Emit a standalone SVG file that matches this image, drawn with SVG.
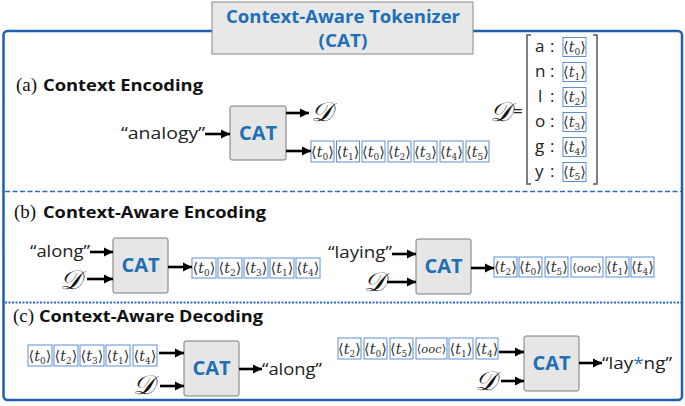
<svg xmlns="http://www.w3.org/2000/svg" width="685" height="406" viewBox="0 0 685 406">
<defs>
<marker id="ah" markerUnits="userSpaceOnUse" markerWidth="10" markerHeight="10" refX="9" refY="5" orient="auto">
<path d="M0,0.5 L9,5 L0,9.5 Z" fill="#000"/>
</marker>
<style>
.cat rect{fill:#e6e6e6;stroke:#7a7a7a;stroke-width:1}
.cat text{font-family:"Open Sans","DejaVu Sans",sans-serif;font-weight:700;font-size:20px;fill:#1f6fb5;text-anchor:middle}
.arr{stroke:#000;stroke-width:2.6;fill:none;marker-end:url(#ah)}
.tk rect{fill:#fff;stroke:#5b8fd0;stroke-width:1}
.tk text{font-family:"DejaVu Serif","Liberation Serif",serif;font-size:14.5px;fill:#333;text-anchor:middle}
.tk .i{font-style:italic}
.tk .s{font-size:9px}
.tk text.o{font-size:11.5px}
.lbl{font-family:"Open Sans","DejaVu Sans",sans-serif;font-size:17px;fill:#222}
.hd{font-family:"Open Sans","DejaVu Sans",sans-serif;font-weight:700;font-size:16.5px;fill:#111}
.hp{font-family:"Liberation Serif","DejaVu Serif",serif;font-size:19px;fill:#111}
.D{font-family:"DejaVu Serif","Liberation Serif",serif;font-style:italic;font-size:27px;fill:#111}
.ttl{font-family:"Open Sans","DejaVu Sans",sans-serif;font-weight:700;font-size:17.5px;fill:#1f6fb8;text-anchor:middle}
</style>
</defs>

<!-- frame -->
<rect x="3.5" y="31" width="678.5" height="369" rx="4" fill="#fff" stroke="#1f5fad" stroke-width="2.5"/>
<line x1="5" y1="191.5" x2="681" y2="191.5" stroke="#2a6bbf" stroke-width="1.5" stroke-dasharray="5 2.5"/>
<line x1="5" y1="302.5" x2="681" y2="302.5" stroke="#2a6bbf" stroke-width="1.8" stroke-dasharray="2 1.5"/>

<g id="title">
<rect x="212" y="2" width="261" height="52" fill="#e8e8e8" stroke="#888" stroke-width="1"/>
<text class="ttl" x="343" y="23" textLength="234" lengthAdjust="spacingAndGlyphs">Context-Aware Tokenizer</text>
<text class="ttl" x="343" y="47" textLength="49" lengthAdjust="spacingAndGlyphs">(CAT)</text>
</g>

<!-- headings -->
<g id="heading-a"><text class="hp" x="16" y="91">(a)</text><text class="hd" x="43" y="91" textLength="160" lengthAdjust="spacingAndGlyphs">Context Encoding</text></g>
<g id="heading-b"><text class="hp" x="14" y="218">(b)</text><text class="hd" x="43" y="218" textLength="223" lengthAdjust="spacingAndGlyphs">Context-Aware Encoding</text></g>
<g id="heading-c"><text class="hp" x="13" y="322">(c)</text><text class="hd" x="39" y="322" textLength="224" lengthAdjust="spacingAndGlyphs">Context-Aware Decoding</text></g>

<!-- CAT nodes -->
<g id="cat-a" class="cat"><rect x="230" y="106" width="56" height="54" rx="2"/><text x="258" y="140">CAT</text></g>
<g id="cat-b1" class="cat"><rect x="113" y="238" width="55" height="55" rx="2"/><text x="140.5" y="272">CAT</text></g>
<g id="cat-b2" class="cat"><rect x="416" y="239" width="55" height="55" rx="2"/><text x="443.5" y="273">CAT</text></g>
<g id="cat-c1" class="cat"><rect x="184" y="341" width="55" height="55" rx="2"/><text x="211.5" y="375">CAT</text></g>
<g id="cat-c2" class="cat"><rect x="524" y="336" width="55" height="55" rx="2"/><text x="551.5" y="370">CAT</text></g>

<!-- labels -->
<g id="labels">
<text class="lbl" x="121" y="139" textLength="84" lengthAdjust="spacingAndGlyphs">“analogy”</text>
<text class="D" x="311" y="121">𝒟</text>
<text class="lbl" x="30" y="257" textLength="60" lengthAdjust="spacingAndGlyphs">“along”</text>
<text class="D" x="60" y="289">𝒟</text>
<text class="lbl" x="328" y="258" textLength="64" lengthAdjust="spacingAndGlyphs">“laying”</text>
<text class="D" x="364" y="291">𝒟</text>
<text class="D" x="133" y="394">𝒟</text>
<text class="lbl" x="262" y="375" textLength="60" lengthAdjust="spacingAndGlyphs">“along”</text>
<text class="D" x="475" y="390">𝒟</text>
<text class="lbl" x="602" y="369" textLength="70" lengthAdjust="spacingAndGlyphs">“lay<tspan fill="#1f6fb5">*</tspan>ng”</text>
</g>

<!-- dictionary -->
<g id="dict">
<text class="D" x="490" y="121">𝒟</text>
<text class="lbl" x="513" y="117" font-size="18">=</text>
<path d="M531,35 H527 V184 H531 M593,35 H597 V184 H593" fill="none" stroke="#555" stroke-width="1.5"/>
<g class="lbl" font-size="17">
<text x="535" y="52">a</text><text x="550" y="52">:</text>
<text x="535" y="77">n</text><text x="550" y="77">:</text>
<text x="538" y="102">l</text><text x="550" y="102">:</text>
<text x="535" y="127">o</text><text x="550" y="127">:</text>
<text x="535" y="152">g</text><text x="550" y="152">:</text>
<text x="535" y="177">y</text><text x="550" y="177">:</text>
</g>
<g class="tk">
<rect x="563" y="37.5" width="23" height="19"/><text x="574.5" y="52"><tspan>⟨</tspan><tspan class="i">t</tspan><tspan class="s" dy="3">0</tspan><tspan dy="-3">⟩</tspan></text>
<rect x="563" y="62.5" width="23" height="19"/><text x="574.5" y="77"><tspan>⟨</tspan><tspan class="i">t</tspan><tspan class="s" dy="3">1</tspan><tspan dy="-3">⟩</tspan></text>
<rect x="563" y="87.5" width="23" height="19"/><text x="574.5" y="102"><tspan>⟨</tspan><tspan class="i">t</tspan><tspan class="s" dy="3">2</tspan><tspan dy="-3">⟩</tspan></text>
<rect x="563" y="112.5" width="23" height="19"/><text x="574.5" y="127"><tspan>⟨</tspan><tspan class="i">t</tspan><tspan class="s" dy="3">3</tspan><tspan dy="-3">⟩</tspan></text>
<rect x="563" y="137.5" width="23" height="19"/><text x="574.5" y="152"><tspan>⟨</tspan><tspan class="i">t</tspan><tspan class="s" dy="3">4</tspan><tspan dy="-3">⟩</tspan></text>
<rect x="563" y="162.5" width="23" height="19"/><text x="574.5" y="177"><tspan>⟨</tspan><tspan class="i">t</tspan><tspan class="s" dy="3">5</tspan><tspan dy="-3">⟩</tspan></text>
</g>
</g>

<!-- token sequences -->
<g id="tokens-a" class="tk">
<rect x="311" y="141" width="23" height="21"/><text x="322.5" y="156.5"><tspan>⟨</tspan><tspan class="i">t</tspan><tspan class="s" dy="3">0</tspan><tspan dy="-3">⟩</tspan></text>
<rect x="336.5" y="141" width="23" height="21"/><text x="348" y="156.5"><tspan>⟨</tspan><tspan class="i">t</tspan><tspan class="s" dy="3">1</tspan><tspan dy="-3">⟩</tspan></text>
<rect x="362" y="141" width="23" height="21"/><text x="373.5" y="156.5"><tspan>⟨</tspan><tspan class="i">t</tspan><tspan class="s" dy="3">0</tspan><tspan dy="-3">⟩</tspan></text>
<rect x="388" y="141" width="23" height="21"/><text x="399.5" y="156.5"><tspan>⟨</tspan><tspan class="i">t</tspan><tspan class="s" dy="3">2</tspan><tspan dy="-3">⟩</tspan></text>
<rect x="414" y="141" width="23" height="21"/><text x="425.5" y="156.5"><tspan>⟨</tspan><tspan class="i">t</tspan><tspan class="s" dy="3">3</tspan><tspan dy="-3">⟩</tspan></text>
<rect x="440" y="141" width="23" height="21"/><text x="451.5" y="156.5"><tspan>⟨</tspan><tspan class="i">t</tspan><tspan class="s" dy="3">4</tspan><tspan dy="-3">⟩</tspan></text>
<rect x="466" y="141" width="23" height="21"/><text x="477.5" y="156.5"><tspan>⟨</tspan><tspan class="i">t</tspan><tspan class="s" dy="3">5</tspan><tspan dy="-3">⟩</tspan></text>
</g>

<g id="tokens-b1" class="tk">
<rect x="192" y="258" width="24" height="20"/><text x="204" y="273"><tspan>⟨</tspan><tspan class="i">t</tspan><tspan class="s" dy="3">0</tspan><tspan dy="-3">⟩</tspan></text>
<rect x="218" y="258" width="24" height="20"/><text x="230" y="273"><tspan>⟨</tspan><tspan class="i">t</tspan><tspan class="s" dy="3">2</tspan><tspan dy="-3">⟩</tspan></text>
<rect x="244" y="258" width="24" height="20"/><text x="256" y="273"><tspan>⟨</tspan><tspan class="i">t</tspan><tspan class="s" dy="3">3</tspan><tspan dy="-3">⟩</tspan></text>
<rect x="270" y="258" width="24" height="20"/><text x="282" y="273"><tspan>⟨</tspan><tspan class="i">t</tspan><tspan class="s" dy="3">1</tspan><tspan dy="-3">⟩</tspan></text>
<rect x="296" y="258" width="24" height="20"/><text x="308" y="273"><tspan>⟨</tspan><tspan class="i">t</tspan><tspan class="s" dy="3">4</tspan><tspan dy="-3">⟩</tspan></text>
</g>

<g id="tokens-b2" class="tk">
<rect x="494" y="257" width="23" height="20"/><text x="505.5" y="272"><tspan>⟨</tspan><tspan class="i">t</tspan><tspan class="s" dy="3">2</tspan><tspan dy="-3">⟩</tspan></text>
<rect x="519" y="257" width="23" height="20"/><text x="530.5" y="272"><tspan>⟨</tspan><tspan class="i">t</tspan><tspan class="s" dy="3">0</tspan><tspan dy="-3">⟩</tspan></text>
<rect x="545" y="257" width="23" height="20"/><text x="556.5" y="272"><tspan>⟨</tspan><tspan class="i">t</tspan><tspan class="s" dy="3">5</tspan><tspan dy="-3">⟩</tspan></text>
<rect x="571" y="257" width="32" height="20"/><text class="o" x="587" y="271.5"><tspan>⟨</tspan><tspan class="i">ooc</tspan><tspan>⟩</tspan></text>
<rect x="606" y="257" width="23" height="20"/><text x="617.5" y="272"><tspan>⟨</tspan><tspan class="i">t</tspan><tspan class="s" dy="3">1</tspan><tspan dy="-3">⟩</tspan></text>
<rect x="631" y="257" width="23" height="20"/><text x="642.5" y="272"><tspan>⟨</tspan><tspan class="i">t</tspan><tspan class="s" dy="3">4</tspan><tspan dy="-3">⟩</tspan></text>
</g>

<g id="tokens-c1" class="tk">
<rect x="28" y="345" width="24" height="21"/><text x="40" y="360.5"><tspan>⟨</tspan><tspan class="i">t</tspan><tspan class="s" dy="3">0</tspan><tspan dy="-3">⟩</tspan></text>
<rect x="54" y="345" width="24" height="21"/><text x="66" y="360.5"><tspan>⟨</tspan><tspan class="i">t</tspan><tspan class="s" dy="3">2</tspan><tspan dy="-3">⟩</tspan></text>
<rect x="80" y="345" width="24" height="21"/><text x="92" y="360.5"><tspan>⟨</tspan><tspan class="i">t</tspan><tspan class="s" dy="3">3</tspan><tspan dy="-3">⟩</tspan></text>
<rect x="106" y="345" width="24" height="21"/><text x="118" y="360.5"><tspan>⟨</tspan><tspan class="i">t</tspan><tspan class="s" dy="3">1</tspan><tspan dy="-3">⟩</tspan></text>
<rect x="133" y="345" width="24" height="21"/><text x="145" y="360.5"><tspan>⟨</tspan><tspan class="i">t</tspan><tspan class="s" dy="3">4</tspan><tspan dy="-3">⟩</tspan></text>
</g>

<g id="tokens-c2" class="tk">
<rect x="338" y="338" width="23" height="21"/><text x="349.5" y="353.5"><tspan>⟨</tspan><tspan class="i">t</tspan><tspan class="s" dy="3">2</tspan><tspan dy="-3">⟩</tspan></text>
<rect x="364" y="338" width="23" height="21"/><text x="375.5" y="353.5"><tspan>⟨</tspan><tspan class="i">t</tspan><tspan class="s" dy="3">0</tspan><tspan dy="-3">⟩</tspan></text>
<rect x="390" y="338" width="23" height="21"/><text x="401.5" y="353.5"><tspan>⟨</tspan><tspan class="i">t</tspan><tspan class="s" dy="3">5</tspan><tspan dy="-3">⟩</tspan></text>
<rect x="416" y="338" width="31" height="21"/><text class="o" x="431.5" y="353"><tspan>⟨</tspan><tspan class="i">ooc</tspan><tspan>⟩</tspan></text>
<rect x="449" y="338" width="24" height="21"/><text x="461" y="353.5"><tspan>⟨</tspan><tspan class="i">t</tspan><tspan class="s" dy="3">1</tspan><tspan dy="-3">⟩</tspan></text>
<rect x="476" y="338" width="22" height="21"/><text x="487" y="353.5"><tspan>⟨</tspan><tspan class="i">t</tspan><tspan class="s" dy="3">4</tspan><tspan dy="-3">⟩</tspan></text>
</g>

<!-- connectors -->
<g id="connectors">
<line class="arr" x1="205" y1="134" x2="230" y2="134"/>
<line class="arr" x1="286" y1="113" x2="309" y2="113"/>
<line class="arr" x1="286" y1="151" x2="311" y2="151"/>
<line class="arr" x1="90" y1="252" x2="113" y2="252"/>
<line class="arr" x1="87" y1="279" x2="113" y2="279"/>
<line class="arr" x1="168" y1="267" x2="192" y2="267"/>
<line class="arr" x1="392" y1="254" x2="416" y2="254"/>
<line class="arr" x1="387" y1="282" x2="416" y2="282"/>
<line class="arr" x1="471" y1="268" x2="494" y2="268"/>
<line class="arr" x1="159" y1="353" x2="184" y2="353"/>
<line class="arr" x1="160" y1="386" x2="184" y2="386"/>
<line class="arr" x1="239" y1="369" x2="262" y2="369"/>
<line class="arr" x1="499" y1="352" x2="524" y2="352"/>
<line class="arr" x1="501" y1="381" x2="524" y2="381"/>
<line class="arr" x1="579" y1="363" x2="602" y2="363"/>
</g>
</svg>
